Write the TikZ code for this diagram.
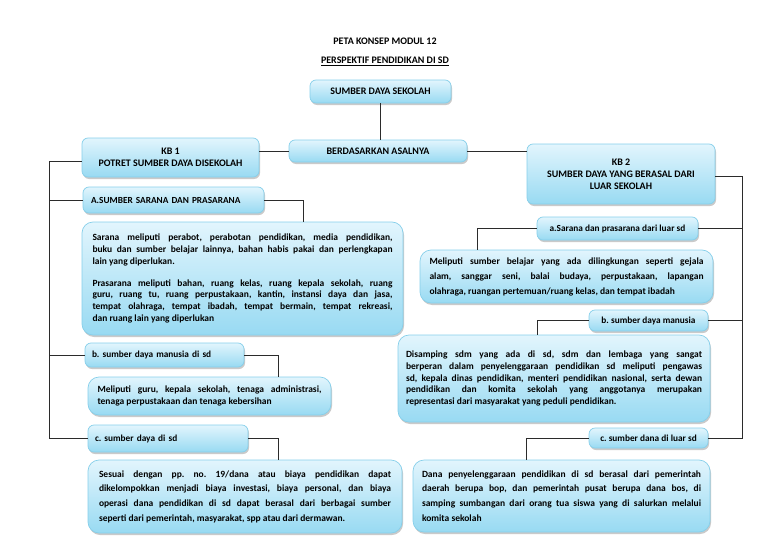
\documentclass[tikz,border=0pt]{standalone}
\usepackage{fontspec}
\setmainfont{Carlito}
\usetikzlibrary{positioning, shadows}
\frenchspacing

\definecolor{boxtop}{HTML}{E2F5FD}
\definecolor{boxbot}{HTML}{98DAF2}
\definecolor{boxline}{HTML}{86CFEA}
\definecolor{wire}{HTML}{2B2B2B}

\tikzset{
  kotak/.style={draw=boxline, line width=0.7pt, rounded corners=6pt,
    top color=boxtop, bottom color=boxbot, inner sep=0pt,
    drop shadow={shadow xshift=1pt, shadow yshift=-2pt, opacity=0.35, fill=black!60}},
  kepala/.style={kotak, align=center, font=\bfseries\fontsize{10}{12}\selectfont},
  subjudul/.style={kotak, align=left, font=\bfseries\fontsize{9.3}{11}\selectfont},
  subkanan/.style={kotak, align=center, font=\bfseries\fontsize{9.3}{11}\selectfont},
  isi/.style={kotak, rounded corners=11pt, align=justify, font=\bfseries\fontsize{9.5}{11.7}\selectfont},
  isilebar/.style={isi, font=\bfseries\fontsize{9.5}{14.7}\selectfont},
  hubung/.style={draw=wire, line width=0.8pt},
}

\begin{document}
\begin{tikzpicture}[x=1pt, y=-1pt]
    \path[use as bounding box] (0,0) rectangle (768,543);

    \node[font=\bfseries\fontsize{10}{12}\selectfont] (judul) at (385,41) {PETA KONSEP MODUL 12};
    \node[font=\bfseries\fontsize{10}{12}\selectfont] (subjudul) at (385,61) {\underline{PERSPEKTIF PENDIDIKAN DI SD}};

    \node[kepala, minimum width=141pt, minimum height=23pt] (sds) at (380.5,91.5) {SUMBER DAYA SEKOLAH};
    \node[kepala, minimum width=178pt, minimum height=22pt] (asal) at (378,151) {BERDASARKAN ASALNYA};

    % kolom kiri
    \begin{scope}
      \node[kepala, minimum width=177pt, minimum height=39pt] (kb1) at (170.5,157.5) {KB 1\\POTRET SUMBER DAYA DISEKOLAH};
      \node[subjudul, text width=165pt, minimum width=181pt, minimum height=26pt] (sarana) at (173.5,200) {A.SUMBER SARANA DAN PRASARANA};
      \node[isi, text width=300pt, minimum width=321pt, minimum height=113pt] (txtsarana) at (242.5,278.5) {%
        Sarana meliputi perabot, perabotan pendidikan, media pendidikan,\linebreak
        buku dan sumber belajar lainnya, bahan habis pakai dan perlengkapan\linebreak
        lain yang diperlukan.\par\vspace{10pt}
        Prasarana meliputi bahan, ruang kelas, ruang kepala sekolah, ruang\linebreak
        guru, ruang tu, ruang perpustakaan, kantin, instansi daya dan jasa,\linebreak
        tempat olahraga, tempat ibadah, tempat bermain, tempat rekreasi,\linebreak
        dan ruang lain yang diperlukan};
      \node[subjudul, text width=145pt, minimum width=159pt, minimum height=24pt] (sdm) at (164.5,355) {b. sumber daya manusia di sd};
      \node[isi, text width=224pt, minimum width=243pt, minimum height=38pt] (txtsdm) at (209.5,396) {%
        Meliputi guru, kepala sekolah, tenaga administrasi,\linebreak
        tenaga perpustakaan dan tenaga kebersihan};
      \node[subjudul, text width=146pt, minimum width=160pt, minimum height=27pt] (dana) at (168,438.5) {c. sumber daya di sd};
      \node[isilebar, text width=292pt, minimum width=314pt, minimum height=73pt] (txtdana) at (245,496.5) {%
        Sesuai dengan pp. no. 19/dana atau biaya pendidikan dapat\linebreak
        dikelompokkan menjadi biaya investasi, biaya personal, dan biaya\linebreak
        operasi dana pendidikan di sd dapat berasal dari berbagai sumber\linebreak
        seperti dari pemerintah, masyarakat, spp atau dari dermawan.};
    \end{scope}

    % kolom kanan
    \begin{scope}
      \node[kepala, minimum width=188pt, minimum height=60pt] (kb2) at (621,174) {KB 2\\SUMBER DAYA YANG BERASAL DARI\\LUAR SEKOLAH};
      \node[subkanan, minimum width=161pt, minimum height=23pt] (luar) at (617.5,228.5) {a.Sarana dan prasarana dari luar sd};
      \node[isilebar, font=\bfseries\fontsize{9.5}{15}\selectfont, text width=274pt, minimum width=293pt, minimum height=53pt] (txtluar) at (566.5,276.5) {%
        Meliputi sumber belajar yang ada dilingkungan seperti gejala\linebreak
        alam, sanggar seni, balai budaya, perpustakaan, lapangan\linebreak
        olahraga, ruangan pertemuan/ruang kelas, dan tempat ibadah};
      \node[subkanan, minimum width=119pt, minimum height=21pt] (sdmluar) at (648.5,320.5) {b. sumber daya manusia};
      \node[isi, text width=296pt, minimum width=312pt, minimum height=87pt] (txtsdmluar) at (554,378.5) {%
        Disamping sdm yang ada di sd, sdm dan lembaga yang sangat\linebreak
        berperan dalam penyelenggaraan pendidikan sd meliputi pengawas\linebreak
        sd, kepala dinas pendidikan, menteri pendidikan nasional, serta dewan\linebreak
        pendidikan dan komita sekolah yang anggotanya merupakan\linebreak
        representasi dari masyarakat yang peduli pendidikan.};
      \node[subkanan, minimum width=119pt, minimum height=20pt] (danaluar) at (648.5,438) {c. sumber dana di luar sd};
      \node[isilebar, text width=279pt, minimum width=297pt, minimum height=72pt] (txtdanaluar) at (561.5,496) {%
        Dana penyelenggaraan pendidikan di sd berasal dari pemerintah\linebreak
        daerah berupa bop, dan pemerintah pusat berupa dana bos, di\linebreak
        samping sumbangan dari orang tua siswa yang di salurkan melalui\linebreak
        komita sekolah};
    \end{scope}

    \coordinate (busL) at (49,0);
    \coordinate (busR) at (742,0);

    \draw[hubung] (sds.south) -- (sds.south |- asal.north);
    \draw[hubung] (asal.west) -- (asal.west -| kb1.east);
    \draw[hubung] (asal.east) -- (asal.east -| kb2.west);

    \draw[hubung] ([yshift=-4pt]kb1.west) -| (busL |- dana.west) -- (dana.west);
    \draw[hubung] (sarana.west) -- (sarana.west -| busL);
    \draw[hubung] (sdm.west) -- (sdm.west -| busL);
    \draw[hubung] (sarana.east) -| ([xshift=60.5pt]txtsarana.north);
    \draw[hubung] (sdm.east) -| ([xshift=68.5pt]txtsdm.north);
    \draw[hubung] (dana.east) -| ([xshift=33pt]txtdana.north);

    \draw[hubung] ([yshift=-2pt]kb2.east) -| (busR |- danaluar.east) -- (danaluar.east);
    \draw[hubung] (luar.east) -- (luar.east -| busR);
    \draw[hubung] (sdmluar.east) -- (sdmluar.east -| busR);
    \draw[hubung] (luar.west) -| ([xshift=-89.5pt]txtluar.north);
    \draw[hubung] (sdmluar.west) -| ([xshift=-17pt]txtsdmluar.north);
    \draw[hubung] (danaluar.west) -| ([xshift=-35.5pt]txtdanaluar.north);

\end{tikzpicture}
\end{document}
